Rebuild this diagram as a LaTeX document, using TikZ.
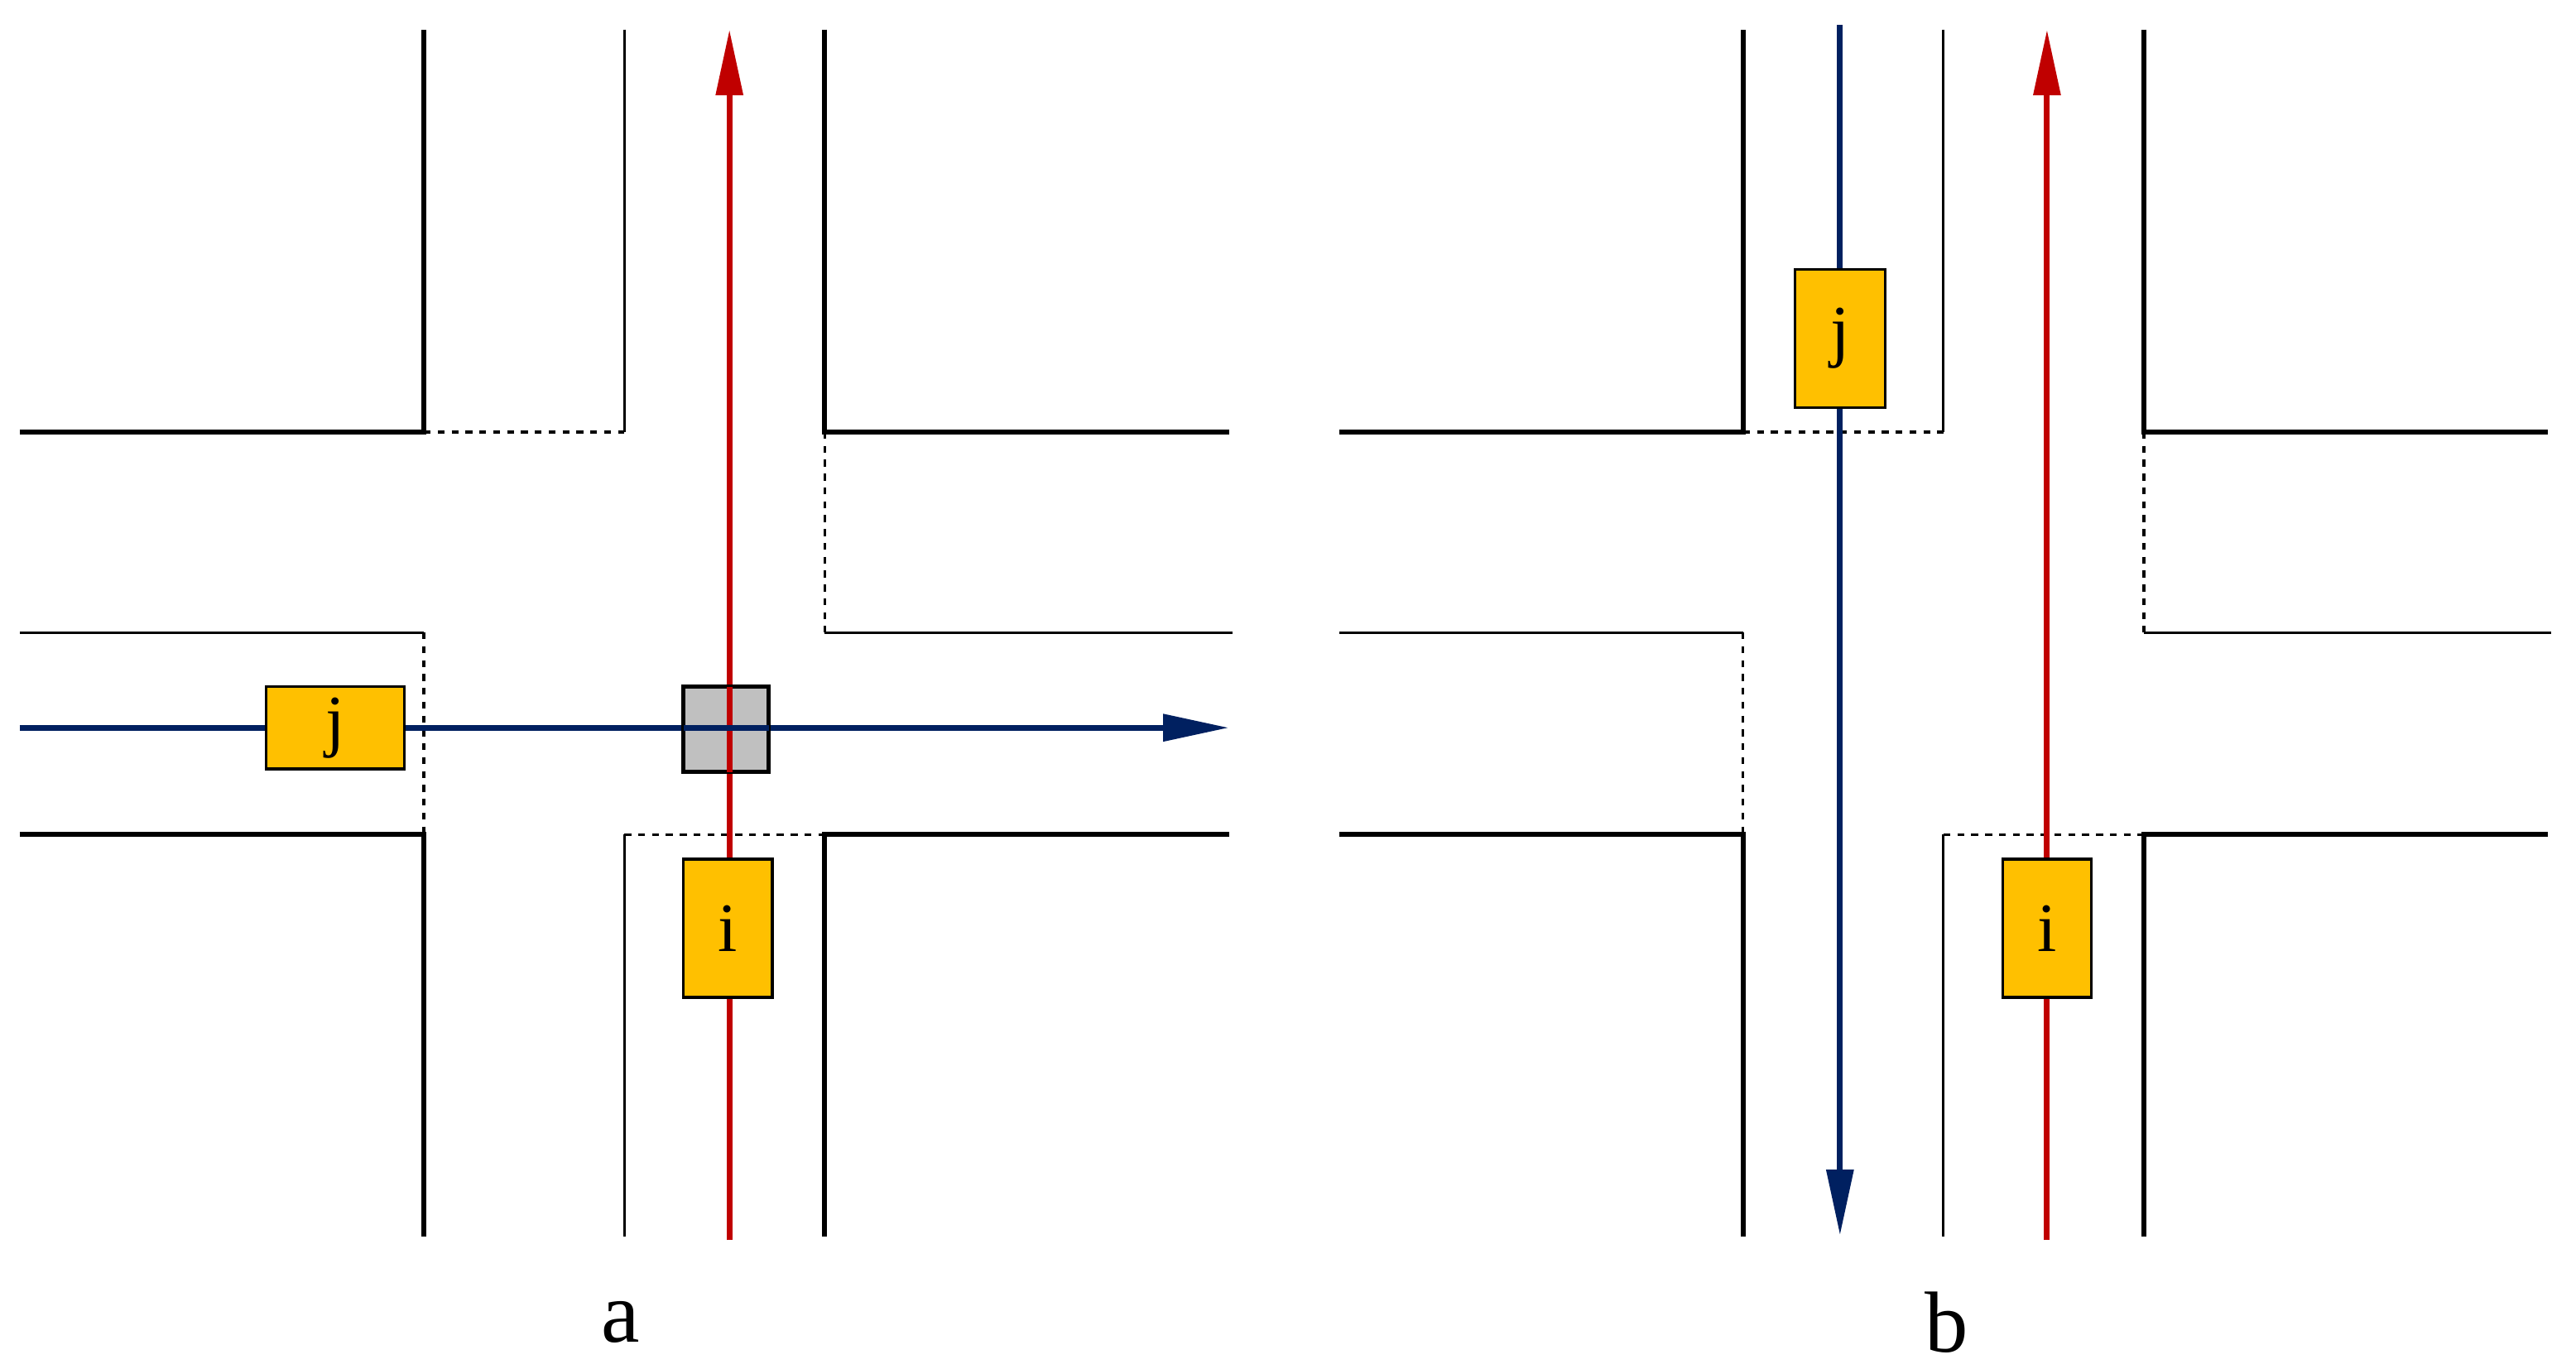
\documentclass[tikz,border=0pt]{standalone}
\usepackage{fontspec}
\setmainfont{Liberation Serif}
\usetikzlibrary{arrows.meta}
\definecolor{rd}{HTML}{C00000}
\definecolor{bl}{HTML}{002060}
\definecolor{yl}{HTML}{FFC000}
\definecolor{gr}{HTML}{C0C0C0}
\begin{document}
\begin{tikzpicture}[x=0.01cm,y=-0.01cm,
 wall/.style={line width=0.9pt},
 lane/.style={line width=0.45pt},
 stop/.style={line width=0.45pt,dash pattern=on 1.2pt off 1.2pt},
 car/.style={draw,line width=0.5pt,fill=yl,inner sep=0pt,font=\fontsize{12}{14}\selectfont},
 path/.style={line width=1pt,-{Triangle[length=0.4cm,width=0.16cm]}},
 lbl/.style={font=\fontsize{15}{18}\selectfont}]
\useasboundingbox (0,0) rectangle (1568,833);
\foreach \o in {0,803}{
\begin{scope}[xshift=\o*0.01cm]
\draw[wall] (12,263)--(258,263)--(258,18);
\draw[wall] (502,18)--(502,263)--(748,263);
\draw[wall] (12,508)--(258,508)--(258,753);
\draw[wall] (748,508)--(502,508)--(502,753);
\draw[lane] (380,18)--(380,263);
\draw[lane] (12,385)--(258,385);
\draw[lane] (502,385)--(750,385);
\draw[lane] (380,508)--(380,753);
\draw[stop] (258,263)--(380,263);
\draw[stop] (502,263)--(502,385);
\draw[stop] (258,385)--(258,508);
\draw[stop] (380,508)--(502,508);
\end{scope}}
% panel a
\coordinate (ra0) at (444,755); \coordinate (ra1) at (444,18);
\coordinate (ba0) at (12,443); \coordinate (ba1) at (748,443);
\draw[path,bl] (ba0)--(ba1);
\draw[path,rd] (ra0)--(ra1);
\node[car,minimum width=0.84cm,minimum height=0.5cm] (ja) at (204,443) {j};
\node[car,minimum width=0.54cm,minimum height=0.84cm] (ia) at (443,565) {i};
\node[draw,line width=0.7pt,fill=gr,minimum width=0.52cm,minimum height=0.52cm] (ca) at (442,444) {};
\draw[rd,line width=1pt] (444,418)--(444,470);
\draw[bl,line width=1pt] (416,443)--(468,443);
\node[lbl] (la) at (378,805) {a};
% panel b
\coordinate (bb0) at (1120,15); \coordinate (bb1) at (1120,752);
\coordinate (rb0) at (1246,755); \coordinate (rb1) at (1246,18);
\draw[path,bl] (bb0)--(bb1);
\draw[path,rd] (rb0)--(rb1);
\node[car,minimum width=0.55cm,minimum height=0.84cm] (jb) at (1120,206) {j};
\node[car,minimum width=0.54cm,minimum height=0.84cm] (ib) at (1246,565) {i};
\node[lbl] (lb) at (1185,805) {b};
\end{tikzpicture}
\end{document}
